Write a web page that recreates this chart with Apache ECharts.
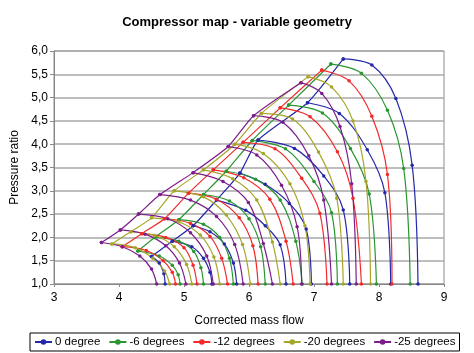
<!DOCTYPE html>
<html>
<head>
<meta charset="utf-8">
<script src="https://cdn.jsdelivr.net/npm/echarts@6/dist/echarts.min.js"></script>
<style>
html, body { margin: 0; padding: 0; background: #fff; }
#chart { width: 474px; height: 353px; }
</style>
</head>
<body>
<div id="chart"></div>
<script>
// axis ticks
var xTicks = [3, 4, 5, 6, 7, 8, 9];
var yTicks = [1.0, 1.5, 2.0, 2.5, 3.0, 3.5, 4.0, 4.5, 5.0, 5.5, 6.0];

// speed lines per geometry, each from surge point down to choke
var deg0 = [
	[[4.50, 1.59], [4.62, 1.45], [4.69, 1.22], [4.71, 1.0]],
	[[4.82, 1.92], [5.12, 1.80], [5.30, 1.55], [5.40, 1.25], [5.43, 1.0]],
	[[5.14, 2.25], [5.40, 2.12], [5.62, 1.86], [5.76, 1.45], [5.81, 1.0]],
	[[5.50, 2.80], [5.95, 2.58], [6.25, 2.25], [6.48, 1.84], [6.57, 1.0]],
	[[5.86, 3.38], [6.25, 3.14], [6.62, 2.73], [6.88, 2.18], [6.96, 1.0]],
	[[6.14, 4.09], [6.70, 3.91], [7.15, 3.32], [7.45, 2.59], [7.55, 1.0]],
	[[6.90, 4.89], [7.39, 4.66], [7.82, 3.88], [8.09, 2.96], [8.18, 1.0]],
	[[7.45, 5.83], [7.89, 5.70], [8.26, 4.98], [8.51, 3.55], [8.60, 1.0]]
];
var deg6 = [
	[[4.29, 1.71], [4.62, 1.60], [4.82, 1.40], [4.91, 1.20], [4.94, 1.0]],
	[[4.55, 2.00], [4.92, 1.92], [5.15, 1.70], [5.26, 1.35], [5.30, 1.0]],
	[[4.92, 2.38], [5.30, 2.28], [5.55, 2.00], [5.70, 1.55], [5.76, 1.0]],
	[[5.30, 2.92], [5.70, 2.78], [6.00, 2.40], [6.18, 1.80], [6.25, 1.0]],
	[[5.65, 3.42], [6.10, 3.25], [6.48, 2.80], [6.72, 1.92], [6.82, 1.0]],
	[[6.05, 4.08], [6.56, 3.90], [7.00, 3.20], [7.27, 2.53], [7.36, 1.0]],
	[[6.61, 4.84], [7.13, 4.67], [7.56, 3.91], [7.85, 2.93], [7.96, 1.0]],
	[[7.26, 5.72], [7.73, 5.52], [8.13, 4.73], [8.38, 3.48], [8.48, 1.0]]
];
var deg12 = [
	[[4.05, 1.80], [4.42, 1.72], [4.68, 1.50], [4.82, 1.25], [4.87, 1.0]],
	[[4.35, 2.08], [4.72, 2.00], [5.00, 1.78], [5.14, 1.40], [5.20, 1.0]],
	[[4.70, 2.40], [5.10, 2.30], [5.40, 2.02], [5.58, 1.55], [5.67, 1.0]],
	[[5.07, 2.95], [5.50, 2.82], [5.85, 2.42], [6.06, 1.82], [6.14, 1.0]],
	[[5.45, 3.45], [5.92, 3.28], [6.32, 2.82], [6.57, 1.92], [6.68, 1.0]],
	[[5.91, 4.04], [6.40, 3.90], [6.81, 3.27], [7.09, 2.52], [7.20, 1.0]],
	[[6.48, 4.78], [6.94, 4.59], [7.36, 3.84], [7.60, 2.84], [7.73, 1.0]],
	[[7.12, 5.59], [7.54, 5.36], [7.89, 4.60], [8.13, 3.35], [8.20, 1.0]]
];
var deg20 = [
	[[3.89, 1.86], [4.25, 1.78], [4.52, 1.55], [4.70, 1.28], [4.78, 1.0]],
	[[4.18, 2.12], [4.55, 2.04], [4.85, 1.80], [5.04, 1.42], [5.12, 1.0]],
	[[4.50, 2.42], [4.92, 2.33], [5.25, 2.05], [5.46, 1.58], [5.55, 1.0]],
	[[4.85, 3.00], [5.30, 2.87], [5.65, 2.48], [5.90, 1.85], [6.02, 1.0]],
	[[5.30, 3.45], [5.75, 3.26], [6.12, 2.80], [6.36, 1.90], [6.48, 1.0]],
	[[5.78, 4.00], [6.22, 3.80], [6.63, 3.15], [6.86, 2.25], [6.94, 1.0]],
	[[6.19, 4.66], [6.67, 4.54], [7.07, 3.83], [7.35, 2.84], [7.45, 1.0]],
	[[6.91, 5.45], [7.27, 5.23], [7.60, 4.50], [7.80, 3.20], [7.87, 1.0]]
];
var deg25 = [
	[[3.73, 1.89], [4.05, 1.80], [4.32, 1.60], [4.50, 1.32], [4.58, 1.0]],
	[[4.02, 2.16], [4.40, 2.07], [4.72, 1.82], [4.93, 1.45], [5.03, 1.0]],
	[[4.30, 2.50], [4.75, 2.40], [5.10, 2.10], [5.35, 1.60], [5.45, 1.0]],
	[[4.63, 2.92], [5.10, 2.80], [5.50, 2.45], [5.78, 1.85], [5.91, 1.0]],
	[[5.14, 3.39], [5.60, 3.20], [5.99, 2.75], [6.22, 1.87], [6.36, 1.0]],
	[[5.68, 3.95], [6.12, 3.77], [6.50, 3.12], [6.74, 2.23], [6.81, 1.0]],
	[[6.07, 4.61], [6.52, 4.47], [6.92, 3.75], [7.15, 2.80], [7.27, 1.0]],
	[[6.80, 5.32], [7.12, 5.09], [7.40, 4.38], [7.58, 3.15], [7.65, 1.0]]
];

var names = ['0 degree', '-6 degrees', '-12 degrees', '-20 degrees', '-25 degrees'];
var colors = ['#2528a8', '#2a9630', '#f22a2a', '#a6a62a', '#7d1d8c'];
var groups = [deg0, deg6, deg12, deg20, deg25];

var series = [];
groups.forEach(function (lines, i) {
	var common = {
		type: 'line',
		name: names[i],
		color: colors[i],
		symbol: 'circle',
		symbolSize: 3.5,
		lineStyle: { width: 1.2 },
		animation: false,
		silent: true
	};
	lines.forEach(function (pts) {
		series.push(Object.assign({}, common, { data: pts, smooth: 0.35 }));
	});
	// surge line through the first point of every speed line
	series.push(Object.assign({}, common, { data: lines.map(function (p) { return p[0]; }), smooth: 0.2 }));
});

var chart = echarts.init(document.getElementById('chart'));
chart.setOption({
	animation: false,
	title: {
		text: 'Compressor map - variable geometry',
		left: 'center',
		top: 11,
		textStyle: { fontFamily: 'Liberation Sans', fontSize: 13, fontWeight: 'bold', color: '#000' }
	},
	grid: { left: 54, right: 30, top: 51, bottom: 69, show: true, borderColor: '#8c8c8c', borderWidth: 1 },
	legend: {
		data: names,
		left: 30,
		top: 333,
		width: 470,
		borderColor: '#000',
		borderWidth: 1,
		padding: [3, 4],
		itemGap: 8,
		itemWidth: 17,
		itemHeight: 7,
		textStyle: { fontFamily: 'Liberation Sans', fontSize: 11.5, color: '#000', padding: [0, 0, 0, -2] }
	},
	xAxis: {
		type: 'value',
		min: xTicks[0],
		max: xTicks[xTicks.length - 1],
		interval: 1,
		name: 'Corrected mass flow',
		nameLocation: 'middle',
		nameGap: 31,
		nameTextStyle: { fontFamily: 'Liberation Sans', fontSize: 12, color: '#000' },
		axisLine: { lineStyle: { color: '#888', width: 1 } },
		axisTick: { show: true, length: 3, lineStyle: { color: '#888' } },
		axisLabel: { fontFamily: 'Liberation Sans', fontSize: 12, color: '#000', margin: 8 },
		splitLine: { show: false }
	},
	yAxis: {
		type: 'value',
		min: yTicks[0],
		max: yTicks[yTicks.length - 1],
		interval: 0.5,
		name: 'Pressure ratio',
		nameLocation: 'middle',
		nameGap: 31,
		nameRotate: 90,
		nameTextStyle: { fontFamily: 'Liberation Sans', fontSize: 12, color: '#000' },
		axisLine: { show: true, lineStyle: { color: '#888', width: 1 } },
		axisTick: { show: true, length: 4, lineStyle: { color: '#888' } },
		axisLabel: {
			fontFamily: 'Liberation Sans', fontSize: 12, color: '#000', margin: 6,
			formatter: function (v) { return v.toFixed(1).replace('.', ','); }
		},
		splitLine: { show: true, lineStyle: { color: '#a8a8a8', width: 1.5 } }
	},
	series: series
});
</script>
</body>
</html>
